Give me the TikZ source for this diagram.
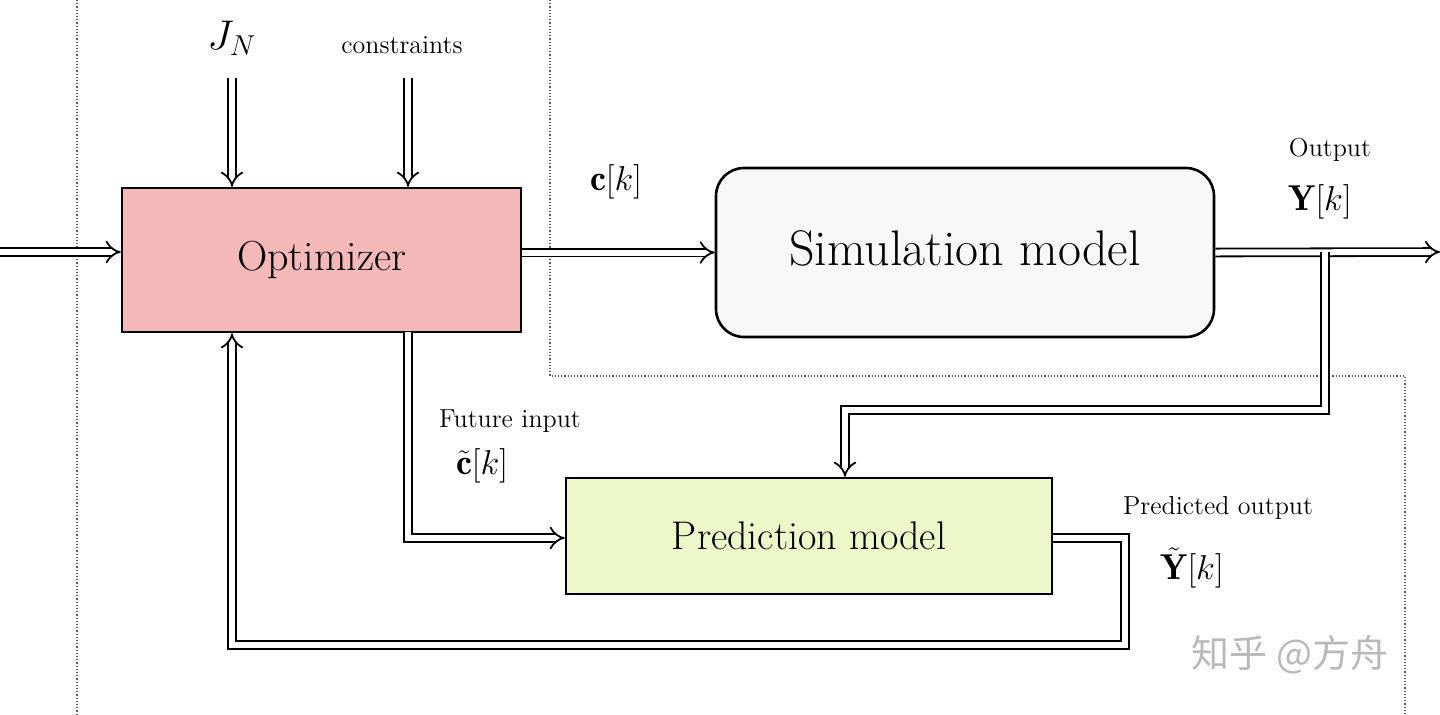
\documentclass[tikz,border=0pt]{standalone}
\usepackage{fontspec}
\newfontfamily\cjk{Noto Sans CJK SC}
\usetikzlibrary{arrows.meta}
\definecolor{optfill}{RGB}{244,184,184}
\definecolor{predfill}{RGB}{238,247,202}
\definecolor{simfill}{RGB}{248,248,248}
\begin{document}
\begin{tikzpicture}[x=0.5pt,y=-0.5pt,
  blk/.style={draw,line width=1.3pt,inner sep=0pt},
  dbl/.style={double,double distance=3pt,line width=0.9pt,line join=miter,-{Implies[length=9pt,width=10pt]}},
  bnd/.style={densely dotted,line width=0.6pt,gray!70!black},
  lbl/.style={font=\fontsize{13}{15}\selectfont,inner sep=1pt},
  mlbl/.style={font=\fontsize{18}{20}\selectfont,inner sep=1pt}]
\useasboundingbox (0,0) rectangle (1440,714);
% boundary
\draw[bnd] (77,0) -- (77,714);
\draw[bnd] (550,0) -- (550,376) -- (1405,376) -- (1405,714);
% blocks
\node[blk,fill=optfill,minimum width=199.5pt,minimum height=72pt] (opt) at (321.5,260) {\raisebox{4pt}{\fontsize{21}{24}\selectfont Optimizer}};
\node[blk,fill=simfill,rounded corners=14pt,minimum width=249pt,minimum height=84.5pt] (sim) at (965,252.5) {\raisebox{4pt}{\fontsize{25}{28}\selectfont Simulation model}};
\node[blk,fill=predfill,minimum width=243pt,minimum height=58pt] (pred) at (809,536) {\fontsize{20}{22}\selectfont Prediction model};
% coordinates
\coordinate (in) at (0,252);
\coordinate (jn) at (232,78);
\coordinate (cs) at (408,78);
\coordinate (out) at (1440,252);
\coordinate (t1) at (1325,252);
\coordinate (t2) at (1325,410);
\coordinate (t3) at (845,410);
\coordinate (f1) at (408,332);
\coordinate (f2) at (408,538);
\coordinate (p1) at (1125,538);
\coordinate (p2) at (1125,645);
\coordinate (p3) at (232,645);
% arrows
\draw[dbl] (in) -- (opt.west |- in);
\draw[dbl] (jn) -- (jn |- opt.north);
\draw[dbl] (cs) -- (cs |- opt.north);
\draw[dbl] (opt.east |- sim.west) -- (sim.west);
\draw[dbl] (sim.east) -- (out);
\draw[dbl] (t1) -- (t2) -- (t3) -- (t3 |- pred.north);
\draw[dbl] (f1) -- (f2) -- (pred.west |- f2);
\draw[dbl] (pred.east |- p1) -- (p1) -- (p2) -- (p3) -- (p3 |- opt.south);
% labels
\node[font=\fontsize{20}{22}\selectfont] (jnl) at (232,38) {$J_N$};
\node[lbl] (csl) at (402,45) {constraints};
\node[mlbl] (ck) at (616,182) {$\mathbf{c}[k]$};
\node[lbl] (outl) at (1330,150) {Output};
\node[mlbl] (yk) at (1320,202) {$\mathbf{Y}[k]$};
\node[lbl] (fil) at (510,421) {Future input};
\node[mlbl] (ctk) at (482,466) {$\tilde{\mathbf{c}}[k]$};
\node[lbl] (pol) at (1218,508) {Predicted output};
\node[mlbl] (ytk) at (1192,568) {$\tilde{\mathbf{Y}}[k]$};
\node[font=\cjk\fontsize{19}{21}\selectfont,text=gray!55] (wm) at (1290,655) {知乎 @方舟};
\end{tikzpicture}
\end{document}
